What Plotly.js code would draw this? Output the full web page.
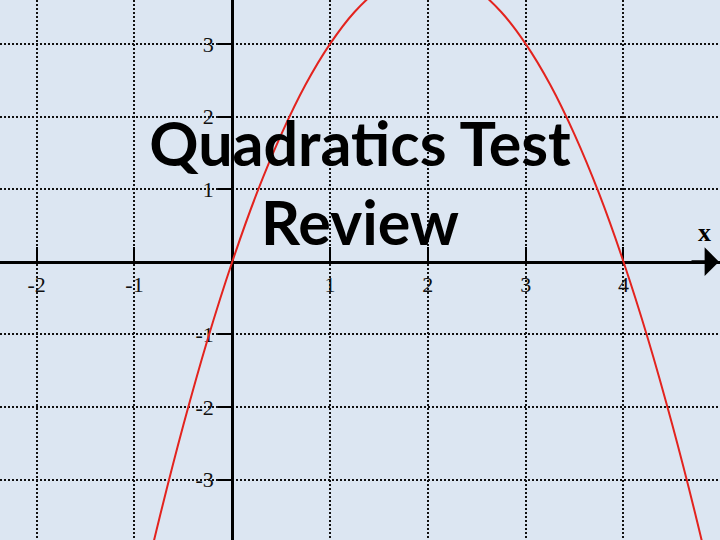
<!DOCTYPE html>
<html>
<head>
<meta charset="utf-8">
<script src="https://cdn.plot.ly/plotly-3.0.1.min.js"></script>
<style>html,body{margin:0;padding:0;background:#dce6f2;}#chart{width:720px;height:540px;}</style>
</head>
<body>
<div id="chart"></div>
<script>
// Curve values
const curveX = [-0.9, -0.75, -0.5, -0.25, 0, 0.25, 0.5, 0.75, 1, 1.25, 1.5, 1.75, 2, 2.25, 2.5, 2.75, 3, 3.25, 3.5, 3.75, 4, 4.25, 4.5, 4.75, 5];
const curveY = [-4.41, -3.56, -2.25, -1.06, 0, 0.94, 1.75, 2.44, 3, 3.44, 3.75, 3.94, 4, 3.94, 3.75, 3.44, 3, 2.44, 1.75, 0.94, 0, -1.06, -2.25, -3.56, -5];

// Axis ticks
const xTickVals = [-2, -1, 1, 2, 3, 4];
const xTickText = ['-2', '-1', '1', '2', '3', '4'];
const yTickVals = [-3, -2, -1, 1, 2, 3];
const yTickText = ['-3', '-2', '-1', '1', '2', '3'];

const xRange = [-2.375, 4.987];
const yRange = [-3.833, 3.605];

const xAxisPos = (0 - yRange[0]) / (yRange[1] - yRange[0]);
const yAxisPos = (0 - xRange[0]) / (xRange[1] - xRange[0]);

const tickFont = {family: 'Liberation Serif', size: 22, color: '#111'};

const data = [{
  x: curveX, y: curveY, type: 'scatter', mode: 'lines',
  line: {color: '#e3231e', width: 2, shape: 'spline', smoothing: 1},
  hoverinfo: 'skip', showlegend: false, cliponaxis: true
}];

const layout = {
  width: 720, height: 540,
  margin: {l: 0, r: 0, t: 0, b: 0, pad: 0},
  paper_bgcolor: '#dce6f2', plot_bgcolor: '#dce6f2',
  showlegend: false,
  title: {
    text: 'Quadratics Test<br>Review',
    font: {family: 'Lato', size: 61, color: '#000', weight: 700},
    x: 0.5, xanchor: 'center', xref: 'paper',
    y: 0.693, yanchor: 'middle', yref: 'paper', automargin: false
  },
  xaxis: {
    range: xRange, anchor: 'free', position: xAxisPos,
    tickmode: 'array', tickvals: xTickVals, ticktext: xTickText,
    ticks: 'inside', ticklen: 14, tickwidth: 2, tickcolor: '#000',
    tickfont: tickFont, ticklabelstandoff: 2,
    showgrid: true, gridcolor: '#111', gridwidth: 2, griddash: '2px,2px',
    zeroline: false, showline: true, linecolor: '#000', linewidth: 3,
    layer: 'below traces', fixedrange: true
  },
  yaxis: {
    range: yRange, anchor: 'free', position: yAxisPos,
    tickmode: 'array', tickvals: yTickVals, ticktext: yTickText,
    ticks: 'outside', ticklen: 13, tickwidth: 2, tickcolor: '#000',
    tickfont: tickFont, ticklabelstandoff: 0,
    showgrid: true, gridcolor: '#111', gridwidth: 2, griddash: '2px,2px',
    zeroline: false, showline: true, linecolor: '#000', linewidth: 3,
    layer: 'below traces', fixedrange: true
  },
  yaxis2: {
    range: yRange, overlaying: 'y', anchor: 'free', position: yAxisPos, side: 'left',
    tickmode: 'array', tickvals: yTickVals,
    ticks: 'inside', ticklen: 13, tickwidth: 2, tickcolor: '#000',
    showticklabels: false, showgrid: false, zeroline: false, showline: false,
    layer: 'below traces', fixedrange: true
  },
  annotations: [
    {
      xref: 'paper', yref: 'y', x: 1, y: 0, ax: -30, ay: 0,
      text: '', showarrow: true, arrowhead: 1, arrowsize: 1.6, arrowwidth: 3,
      arrowcolor: '#000', standoff: 0
    },
    {
      xref: 'paper', yref: 'y', x: 0.979, y: 0.4, xanchor: 'center', yanchor: 'middle',
      text: '<b>x</b>', showarrow: false,
      font: {family: 'Liberation Serif', size: 26, color: '#000'}
    }
  ]
};

Plotly.newPlot('chart', data, layout, {displayModeBar: false, staticPlot: true});
</script>
</body>
</html>
